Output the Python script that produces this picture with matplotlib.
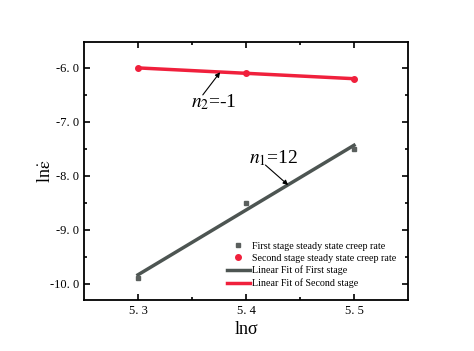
import numpy as np
from matplotlib import pyplot as plt

ln_sigma = [5.3, 5.4, 5.5]
first_stage = [-9.9, -8.5, -7.5]
second_stage = [-6.0, -6.1, -6.2]

x_ticks = [5.3, 5.4, 5.5]
x_tick_labels = ["5. 3", "5. 4", "5. 5"]
y_ticks = [-10.0, -9.0, -8.0, -7.0, -6.0]
y_tick_labels = ["-10. 0", "-9. 0", "-8. 0", "-7. 0", "-6. 0"]

GRAY = "#4d5552"
RED = "#f0203c"


def main():
    plt.rcParams["font.family"] = ["Liberation Serif", "DejaVu Serif"]
    plt.rcParams["mathtext.fontset"] = "stix"

    fig = plt.figure(figsize=(4.74, 3.51), dpi=100)
    ax = fig.add_axes([84 / 474, 51 / 351, 324 / 474, 258 / 351])

    x = np.array(ln_sigma)
    k1, b1 = np.polyfit(x, first_stage, 1)
    k2, b2 = np.polyfit(x, second_stage, 1)

    ax.plot(x, first_stage, "s", color="#5a5f5d", ms=3.5, label="First stage steady state creep rate", zorder=3)
    ax.plot(x, second_stage, "o", color=RED, ms=4, label="Second stage steady state creep rate", zorder=3)
    ax.plot(x, k1 * x + b1, color=GRAY, lw=2.5, label="Linear Fit of First stage")
    ax.plot(x, k2 * x + b2, color=RED, lw=2.5, label="Linear Fit of Second stage")

    arrow = dict(arrowstyle="-|>", color="black", lw=0.8, mutation_scale=7, shrinkA=0, shrinkB=0)
    ax.annotate("", xy=(5.376, -6.08), xytext=(5.36, -6.5), arrowprops=arrow)
    ax.text(5.349, -6.63, r"$n_2$=-1", fontsize=14, va="center", ha="left")
    ax.annotate("", xy=(5.439, -8.17), xytext=(5.418, -7.8), arrowprops=arrow)
    ax.text(5.403, -7.68, r"$n_1$=12", fontsize=14, va="center", ha="left")

    ax.set_xlim(5.25, 5.55)
    ax.set_ylim(-10.3, -5.52)
    ax.set_xticks(x_ticks, x_tick_labels, fontsize=9)
    ax.set_yticks(y_ticks, y_tick_labels, fontsize=9)
    ax.set_xticks([5.35, 5.45], minor=True)
    ax.set_yticks([-9.5, -8.5, -7.5, -6.5], minor=True)
    ax.tick_params(which="both", direction="in", top=True, right=True, width=1.2)
    ax.tick_params(which="major", length=4)
    ax.tick_params(which="minor", length=2)
    for s in ax.spines.values():
        s.set_linewidth(1.3)

    ax.set_xlabel("lnσ", fontsize=13, labelpad=3)
    ax.set_ylabel(r"ln$\dot{\mathrm{\varepsilon}}$", fontsize=13, labelpad=-3)

    ax.legend(loc="lower right", frameon=False, fontsize=7.2, handlelength=2.3,
              handletextpad=0.2, labelspacing=0.3, borderaxespad=0.8)

    fig.savefig("out.png", dpi=100)


if __name__ == "__main__":
    main()
